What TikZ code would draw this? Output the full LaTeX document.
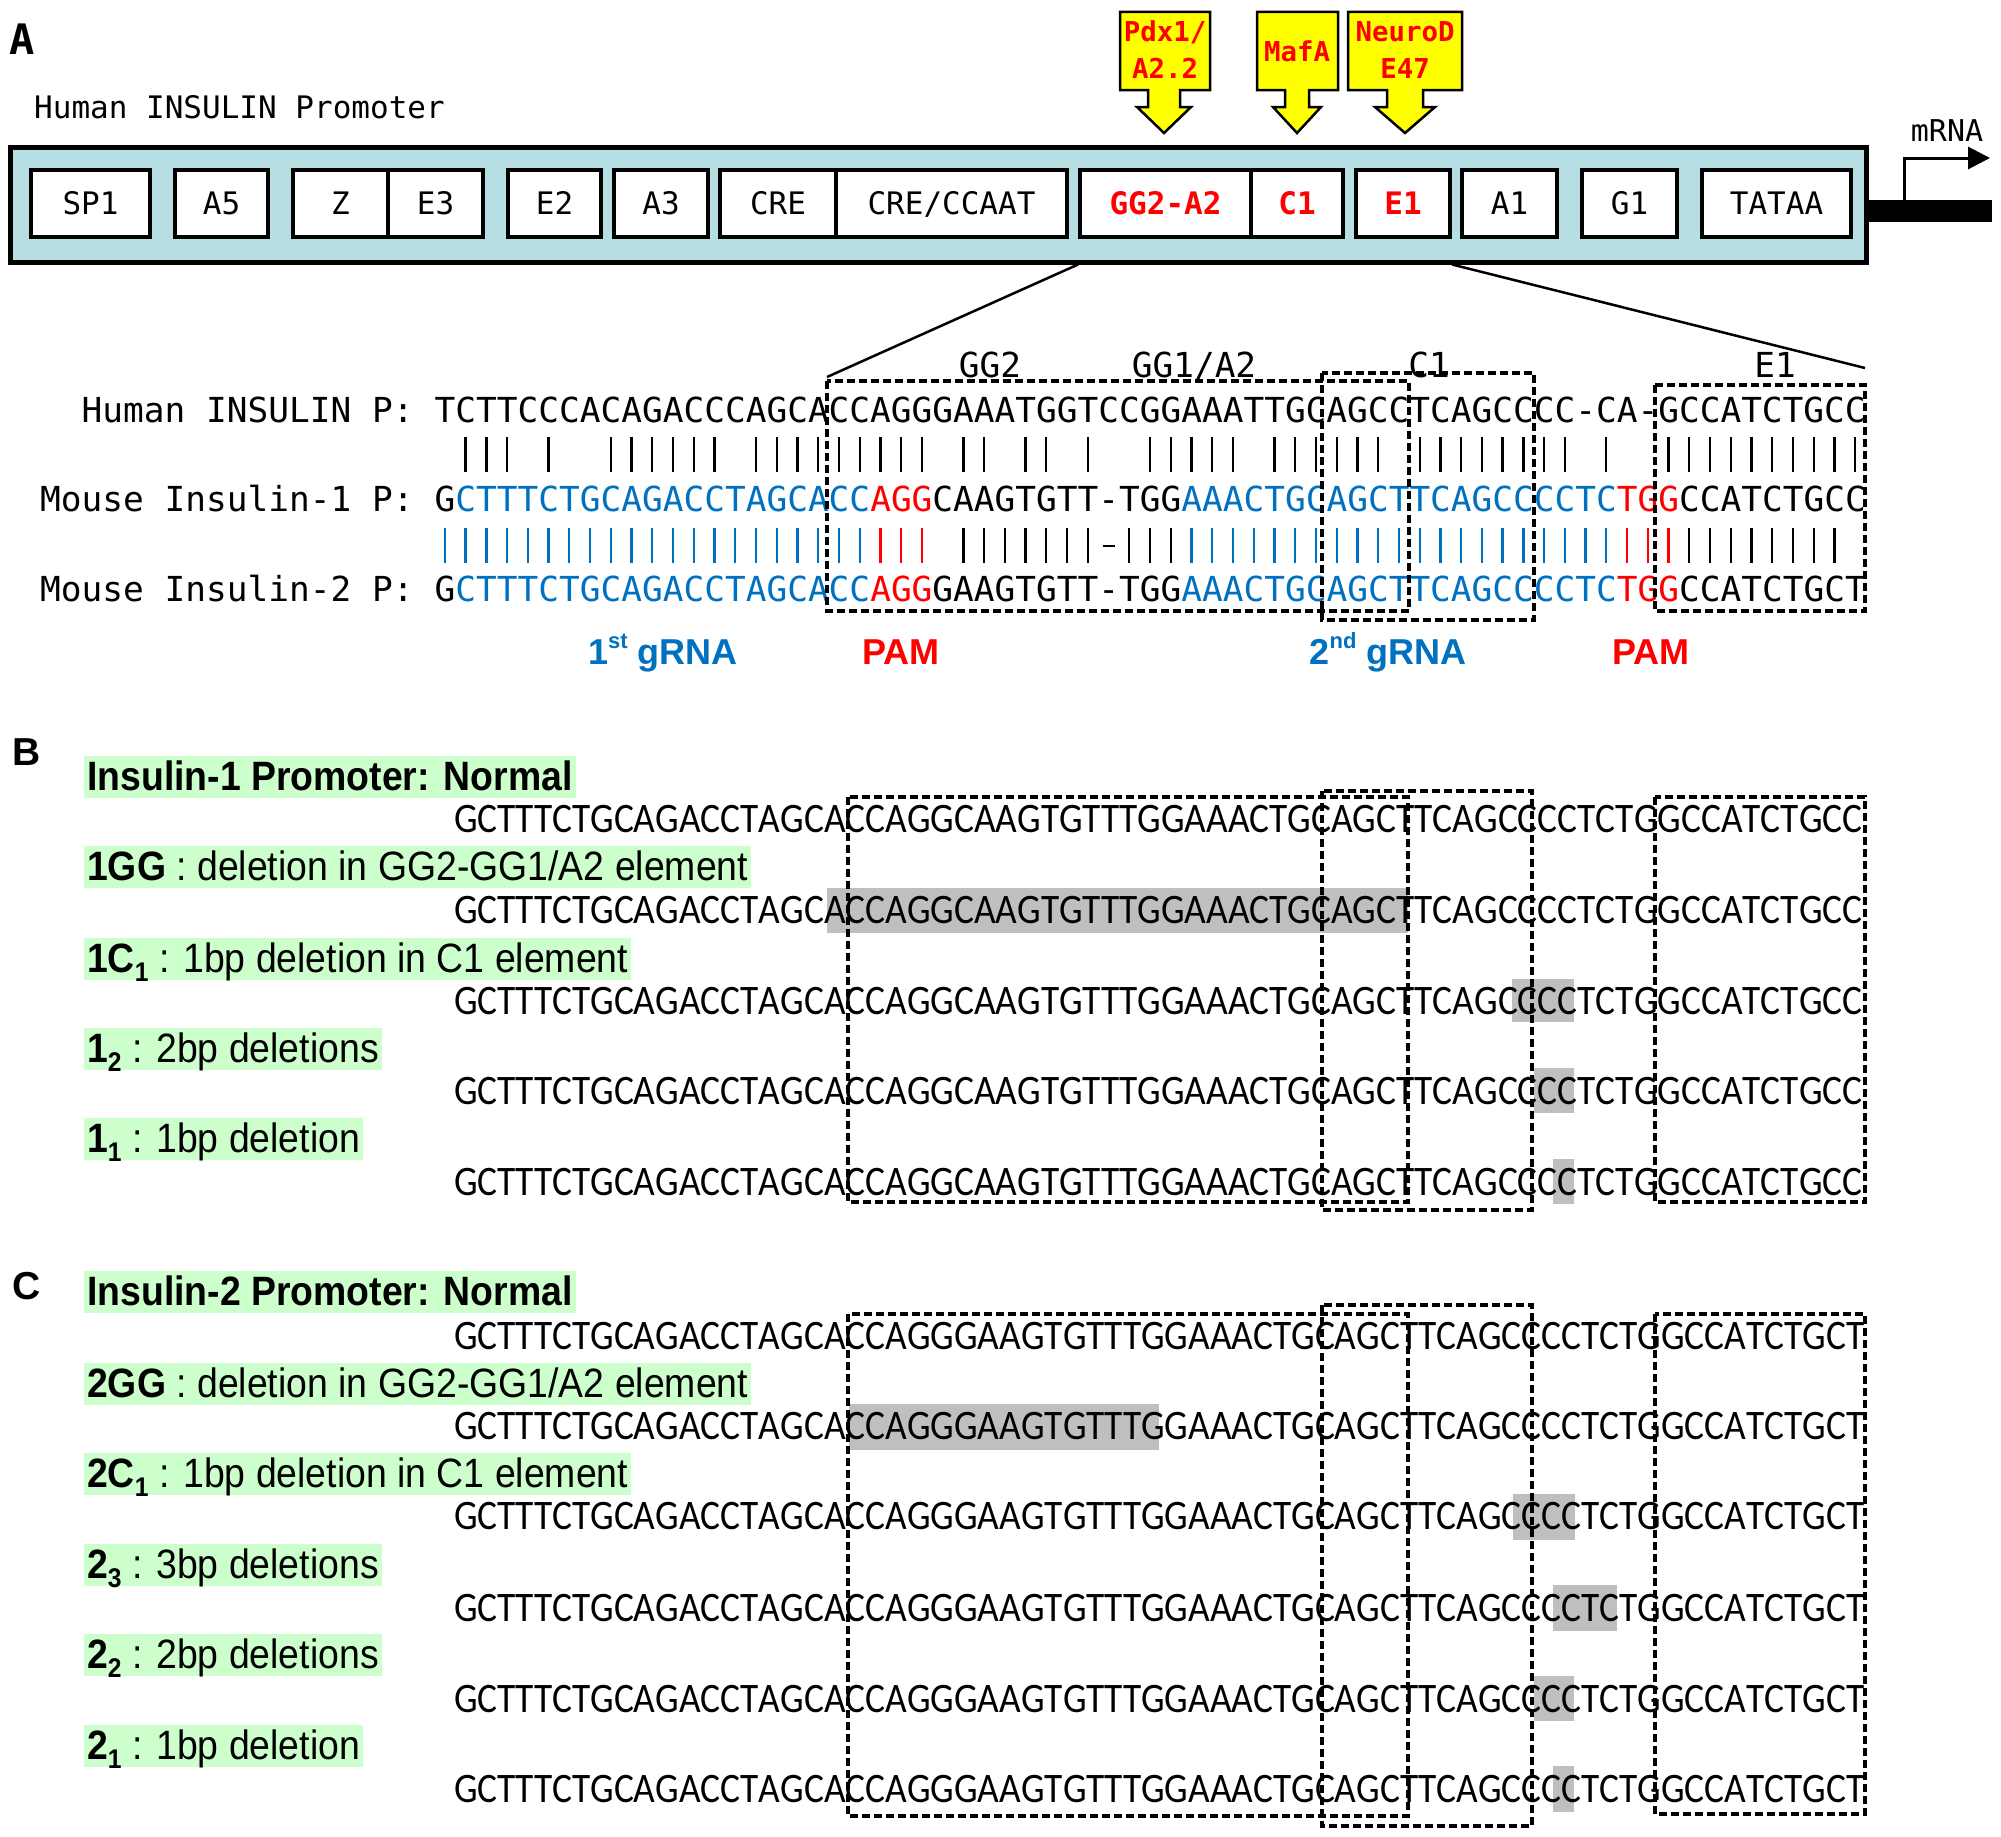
\documentclass[tikz,border=0pt]{standalone}
\usepackage{fontspec}
\setmainfont{Liberation Sans}
\newfontfamily\monof{DejaVu Sans Mono}
\newfontfamily\seqf[Kerning=Off,FakeStretch=0.89]{Carlito}
\newfontfamily\labf[FakeStretch=0.912]{Liberation Sans}
\usetikzlibrary{arrows.meta}
\definecolor{gblue}{HTML}{0070C0}
\definecolor{promfill}{HTML}{B7DEE2}
\definecolor{lgreen}{HTML}{CCFFCC}
\definecolor{hgray}{HTML}{BFBFBF}
\definecolor{yel}{HTML}{FFFF00}
\newcommand\subsc[1]{\raisebox{-0.22em}{\fontsize{27}{27}\selectfont #1}}
\newcommand\supsc[1]{\raisebox{0.42em}{\fontsize{22}{22}\selectfont #1}}
\newcommand\yarr[5]{\draw[yarrow] (#1,12) -- (#2,12) -- (#2,90) -- ({#3+#4},90) -- ({#3+#4},107) -- ({#3+#5},107) -- (#3,133) -- ({#3-#5},107) -- ({#3-#4},107) -- ({#3-#4},90) -- (#1,90) -- cycle;}
\def\xo{434.5}
\def\pw{20.74}
\begin{document}
\begin{tikzpicture}[x=1pt,y=-1pt,
  mono/.style={font=\monof\fontsize{34.45}{40}\selectfont, inner sep=0pt},
  elbl/.style={draw, line width=4pt, fill=white, minimum height=67pt, inner sep=0pt,
     font=\monof\fontsize{31}{31}\selectfont, text height=22.6pt, text depth=0pt},
  redb/.style={text=red, font=\monof\bfseries\fontsize{31}{31}\selectfont},
  dbox/.style={draw, line width=4pt, dash pattern=on 8pt off 4pt},
  glbl/.style={fill=lgreen, anchor=west, inner xsep=3pt, inner ysep=2.5pt, text height=32pt,
     text depth=5pt, font=\labf\fontsize{41}{44}\selectfont},
  seqt/.style={font=\seqf\fontsize{42}{44}\selectfont, inner sep=0pt, anchor=base west},
  hl/.style={fill=hgray},
  bar/.style={line width=2.3pt},
  zline/.style={line width=2.5pt},
  yarrow/.style={draw, fill=yel, line width=2.5pt, line join=miter},
  ylab/.style={font=\monof\bfseries\fontsize{27.4}{37}\selectfont, text=red, align=center, inner sep=0pt},
  panel/.style={font=\bfseries\fontsize{39}{39}\selectfont, anchor=base west, inner sep=0pt},
  guide/.style={font=\bfseries\fontsize{36}{40}\selectfont, anchor=base, inner sep=0pt}]
\useasboundingbox (0,0) rectangle (2001,1836);

% ---------------- Panel A ----------------
\node[font=\monof\bfseries\fontsize{42}{42}\selectfont, anchor=base west, inner sep=0pt] (pa) at (9,55) {A};
\node[mono, font=\monof\fontsize{31}{31}\selectfont, anchor=base west] (ptitle) at (34,118) {Human INSULIN Promoter};

% yellow factor arrows
\yarr{1120}{1210}{1164}{16}{27}
\yarr{1257}{1338}{1297}{12}{24}
\yarr{1348}{1462}{1405}{18}{30}
\node[ylab] (pdx) at (1165,50) {Pdx1/\\A2.2};
\node[ylab] (mafa) at (1297,51) {MafA};
\node[ylab] (neurod) at (1405,50) {NeuroD\\E47};

% promoter
\node[draw, line width=5pt, fill=promfill, minimum width=1856pt, minimum height=115pt, inner sep=0pt] (prom) at (938,204.5) {};
\node[elbl, minimum width=119pt] (sp1) at (90.5,203.5) {SP1};
\node[elbl, minimum width=93pt] (a5) at (221.5,203.5) {A5};
\node[elbl, minimum width=95pt] (zz) at (340.5,203.5) {Z};
\node[elbl, minimum width=95pt] (e3) at (435.5,203.5) {E3};
\node[elbl, minimum width=93pt] (e2) at (554.5,203.5) {E2};
\node[elbl, minimum width=94pt] (a3) at (661,203.5) {A3};
\node[elbl, minimum width=116pt] (cre) at (778,203.5) {CRE};
\node[elbl, minimum width=231pt] (crec) at (951.5,203.5) {CRE/CCAAT};
\node[elbl, redb, minimum width=171pt] (gg2) at (1165.5,203.5) {GG2-A2};
\node[elbl, redb, minimum width=92pt] (c1) at (1297,203.5) {C1};
\node[elbl, redb, minimum width=94pt] (e1) at (1403,203.5) {E1};
\node[elbl, minimum width=95pt] (a1) at (1509.5,203.5) {A1};
\node[elbl, minimum width=95pt] (g1) at (1629.5,203.5) {G1};
\node[elbl, minimum width=149pt] (tata) at (1776.5,203.5) {TATAA};
\node[fill=black, minimum width=126pt, minimum height=22pt, inner sep=0pt] (tss) at (1929,211) {};
\coordinate (mend) at (1990,158);
\draw[line width=3pt, -{Triangle[length=22pt,width=22pt]}] ([xshift=39pt]tss.north west) |- (mend);
\node[mono, font=\monof\fontsize{30}{30}\selectfont] (mrna) at (1947,131) {mRNA};

% zoom lines
\coordinate (zl) at (827,377);
\coordinate (zr) at (1865,368);
\draw[zline] (gg2.west |- prom.south) -- (zl);
\draw[zline] (e1.east |- prom.south) -- (zr);

% element labels
\node[mono, anchor=base] (lgg2) at (990,377) {GG2};
\node[mono, anchor=base] (lgg1) at (1194,377) {GG1/A2};
\node[mono, anchor=base] (lc1) at (1429,377) {C1};
\node[mono, anchor=base] (le1) at (1775,377) {E1};

% alignment
\node[mono, anchor=base east] (lh) at ({\xo-\pw},422) {Human INSULIN P:};
\node[mono, anchor=base east] (lm1) at ({\xo-\pw},511) {Mouse Insulin-1 P:};
\node[mono, anchor=base east] (lm2) at ({\xo-\pw},601) {Mouse Insulin-2 P:};
\node[mono, anchor=base west] (sh) at (\xo,422) {TCTTCCCACAGACCCAGCACCAGGGAAATGGTCCGGAAATTGCAGCCTCAGCCCC-CA-GCCATCTGCC};
\node[mono, anchor=base west] (sm1) at (\xo,511) {G\textcolor{gblue}{CTTTCTGCAGACCTAGCACC}\textcolor{red}{AGG}CAAGTGTT-TGG\textcolor{gblue}{AAACTGCAGCTTCAGCCCCTC}\textcolor{red}{TGG}CCATCTGCC};
\node[mono, anchor=base west] (sm2) at (\xo,601) {G\textcolor{gblue}{CTTTCTGCAGACCTAGCACC}\textcolor{red}{AGG}GAAGTGTT-TGG\textcolor{gblue}{AAACTGCAGCTTCAGCCCCTC}\textcolor{red}{TGG}CCATCTGCT};

\foreach \i in {1,2,3,5,8,9,10,11,12,13,15,16,17,18,19,20,21,22,23,25,26,28,29,31,34,35,36,37,38,40,41,42,43,44,45,47,48,49,50,51,52,53,54,56,59,60,61,62,63,64,65,66,67,68}
  \draw[bar] ({\xo+(\i+0.5)*\pw},437) -- ++(0,35);
\foreach \i in {0,...,20,36,37,...,56}
  \draw[bar, gblue] ({\xo+(\i+0.5)*\pw},528) -- ++(0,35);
\foreach \i in {21,22,23,57,58,59}
  \draw[bar, red] ({\xo+(\i+0.5)*\pw},528) -- ++(0,35);
\foreach \i in {25,...,31,33,34,35,60,61,...,67}
  \draw[bar] ({\xo+(\i+0.5)*\pw},528) -- ++(0,35);
\draw[line width=2.5pt] ({\xo+32.5*\pw-6},546) -- ++(12,0);

\draw[dbox] (827,381) rectangle (1409,611);
\draw[dbox] (1322,373) rectangle (1534,620);
\draw[dbox] (1655,385) rectangle (1865,611);

\node[guide, text=gblue] (g1st) at (663,664) {1\supsc{st} gRNA};
\node[guide, text=red] (pam1) at (901,664) {PAM};
\node[guide, text=gblue] (g2nd) at (1388,664) {2\supsc{nd} gRNA};
\node[guide, text=red] (pam2) at (1651,664) {PAM};

% ---------------- Panel B ----------------
\node[panel] (pb) at (12,765) {B};
\node[glbl] (b1) at (84,777) {\textbf{Insulin-1 Promoter: Normal}};
\node[glbl] (b2) at (84,867) {\textbf{1GG} : deletion in GG2-GG1/A2 element};
\node[glbl] (b3) at (84,959) {\textbf{1C\subsc{1}} : 1bp deletion in C1 element};
\node[glbl] (b4) at (84,1049) {\textbf{1\subsc{2}} : 2bp deletions};
\node[glbl] (b5) at (84,1139) {\textbf{1\subsc{1}} : 1bp deletion};

\fill[hl] (827,888) rectangle (1408,933);
\fill[hl] (1512,979) rectangle (1574,1022);
\fill[hl] (1534,1068) rectangle (1574,1113);
\fill[hl] (1553,1159) rectangle (1574,1204);

\foreach \y/\n in {832/bs1,923/bs2,1014/bs3,1104/bs4,1195/bs5}
  \node[seqt] (\n) at (454,\y) {GCTTTCTGCAGACCTAGCACCAGGCAAGTGTTTGGAAACTGCAGCTTCAGCCCCTCTGGCCATCTGCC};

\draw[dbox] (848,797) rectangle (1408,1202);
\draw[dbox] (1322,791) rectangle (1532,1210);
\draw[dbox] (1655,797) rectangle (1865,1202);

% ---------------- Panel C ----------------
\node[panel] (pc) at (12,1299) {C};
\node[glbl] (c1l) at (84,1292) {\textbf{Insulin-2 Promoter: Normal}};
\node[glbl] (c2l) at (84,1384) {\textbf{2GG} : deletion in GG2-GG1/A2 element};
\node[glbl] (c3l) at (84,1474) {\textbf{2C\subsc{1}} : 1bp deletion in C1 element};
\node[glbl] (c4l) at (84,1565) {\textbf{2\subsc{3}} : 3bp deletions};
\node[glbl] (c5l) at (84,1655) {\textbf{2\subsc{2}} : 2bp deletions};
\node[glbl] (c6l) at (84,1746) {\textbf{2\subsc{1}} : 1bp deletion};

\fill[hl] (849,1404) rectangle (1159,1450);
\fill[hl] (1513,1494) rectangle (1575,1540);
\fill[hl] (1553,1585) rectangle (1617,1631);
\fill[hl] (1534,1676) rectangle (1574,1721);
\fill[hl] (1553,1766) rectangle (1574,1812);

\foreach \y/\n in {1349/cs1,1439/cs2,1529/cs3,1621/cs4,1712/cs5,1802/cs6}
  \node[seqt] (\n) at (454,\y) {GCTTTCTGCAGACCTAGCACCAGGGAAGTGTTTGGAAACTGCAGCTTCAGCCCCTCTGGCCATCTGCT};

\draw[dbox] (848,1314) rectangle (1408,1816);
\draw[dbox] (1322,1305) rectangle (1532,1826);
\draw[dbox] (1655,1314) rectangle (1865,1814);
\end{tikzpicture}
\end{document}
